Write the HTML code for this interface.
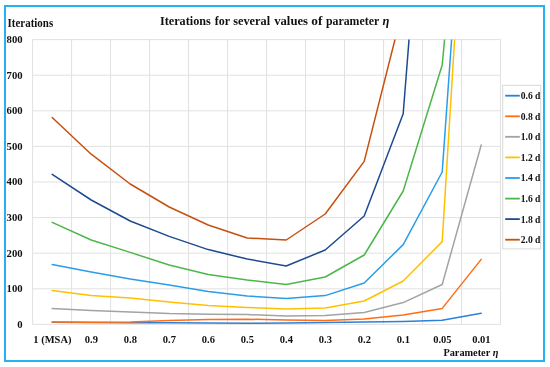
<!DOCTYPE html>
<html><head><meta charset="utf-8"><title>Iterations chart</title>
<style>html,body{margin:0;padding:0;background:#fff}svg{display:block}text{font-family:"Liberation Serif",serif;font-weight:bold;fill:#111}</style></head><body>
<svg width="550" height="367" viewBox="0 0 550 367">
<rect x="0" y="0" width="550" height="367" fill="#fff"/>
<rect x="5" y="6" width="539" height="355" fill="#fff" stroke="#24B3EE" stroke-width="2"/>
<path d="M32.6 39.60H500.5M32.6 75.20H500.5M32.6 110.80H500.5M32.6 146.40H500.5M32.6 182.00H500.5M32.6 217.60H500.5M32.6 253.20H500.5M32.6 288.80H500.5M32.6 324.40H500.5M32.60 39.6V324.4M71.59 39.6V324.4M110.58 39.6V324.4M149.57 39.6V324.4M188.57 39.6V324.4M227.56 39.6V324.4M266.55 39.6V324.4M305.54 39.6V324.4M344.53 39.6V324.4M383.52 39.6V324.4M422.52 39.6V324.4M461.51 39.6V324.4M500.50 39.6V324.4" stroke="#E1E1E1" stroke-width="1" fill="none"/>
<clipPath id="c"><rect x="32.6" y="39.6" width="467.9" height="286.79999999999995"/></clipPath>
<g clip-path="url(#c)" fill="none" stroke-width="1.5" stroke-linejoin="round" stroke-linecap="round">
<polyline points="52.2,322.2 91.2,322.4 130.2,322.7 169.2,322.8 208.2,323.0 247.2,323.2 286.2,323.0 325.2,322.6 364.2,322.0 403.2,321.4 442.2,320.2 481.2,313.2" stroke="#2B80D8"/>
<polyline points="52.2,322.0 91.2,322.2 130.2,322.0 169.2,320.6 208.2,319.6 247.2,319.2 286.2,320.0 325.2,320.6 364.2,319.0 403.2,315.0 442.2,308.4 481.2,259.4" stroke="#FF6E14"/>
<polyline points="52.2,308.6 91.2,310.4 130.2,312.0 169.2,313.6 208.2,314.2 247.2,314.6 286.2,316.0 325.2,315.4 364.2,312.4 403.2,302.6 442.2,284.5 481.2,145.0" stroke="#A3A3A3"/>
<polyline points="52.2,290.4 91.2,295.6 130.2,298.0 169.2,302.0 208.2,305.4 247.2,307.4 286.2,309.0 325.2,308.0 364.2,301.0 403.2,281.0 442.2,241.6 481.2,-394.0" stroke="#FFC000"/>
<polyline points="52.2,264.4 91.2,272.0 130.2,279.0 169.2,285.0 208.2,291.6 247.2,296.0 286.2,298.4 325.2,295.6 364.2,283.0 403.2,244.6 442.2,172.0 481.2,-378.0" stroke="#2A9DE6"/>
<polyline points="52.2,222.4 91.2,240.0 130.2,252.4 169.2,265.0 208.2,274.4 247.2,280.0 286.2,284.6 325.2,277.0 364.2,255.0 403.2,191.0 442.2,65.0 481.2,-352.0" stroke="#4CB748"/>
<polyline points="52.2,174.4 91.2,200.0 130.2,221.0 169.2,236.4 208.2,249.6 247.2,259.0 286.2,266.0 325.2,250.0 364.2,216.0 403.2,113.8 442.2,-383.0" stroke="#1D4B90"/>
<polyline points="52.2,117.5 91.2,154.2 130.2,184.0 169.2,207.0 208.2,225.0 247.2,238.0 286.2,240.0 325.2,214.0 364.2,161.4 403.2,7.0" stroke="#C8500F"/>
</g>
<text x="22.6" y="43.0" font-size="10.7" text-anchor="end">800</text>
<text x="22.6" y="78.6" font-size="10.7" text-anchor="end">700</text>
<text x="22.6" y="114.2" font-size="10.7" text-anchor="end">600</text>
<text x="22.6" y="149.8" font-size="10.7" text-anchor="end">500</text>
<text x="22.6" y="185.4" font-size="10.7" text-anchor="end">400</text>
<text x="22.6" y="221.0" font-size="10.7" text-anchor="end">300</text>
<text x="22.6" y="256.6" font-size="10.7" text-anchor="end">200</text>
<text x="22.6" y="292.2" font-size="10.7" text-anchor="end">100</text>
<text x="22.6" y="327.8" font-size="10.7" text-anchor="end">0</text>
<text x="52.4" y="343.3" font-size="10.5" text-anchor="middle">1 (MSA)</text>
<text x="91.4" y="343.3" font-size="10.5" text-anchor="middle">0.9</text>
<text x="130.4" y="343.3" font-size="10.5" text-anchor="middle">0.8</text>
<text x="169.4" y="343.3" font-size="10.5" text-anchor="middle">0.7</text>
<text x="208.4" y="343.3" font-size="10.5" text-anchor="middle">0.6</text>
<text x="247.4" y="343.3" font-size="10.5" text-anchor="middle">0.5</text>
<text x="286.4" y="343.3" font-size="10.5" text-anchor="middle">0.4</text>
<text x="325.4" y="343.3" font-size="10.5" text-anchor="middle">0.3</text>
<text x="364.4" y="343.3" font-size="10.5" text-anchor="middle">0.2</text>
<text x="403.4" y="343.3" font-size="10.5" text-anchor="middle">0.1</text>
<text x="442.4" y="343.3" font-size="10.5" text-anchor="middle">0.05</text>
<text x="481.4" y="343.3" font-size="10.5" text-anchor="middle">0.01</text>
<text x="7.6" y="27.2" font-size="11.6" textLength="45.6" lengthAdjust="spacingAndGlyphs">Iterations</text>
<g font-size="12.5"><text x="159.9" y="24.8" textLength="50.9" lengthAdjust="spacingAndGlyphs">Iterations</text><text x="214.7" y="24.8" textLength="15.3" lengthAdjust="spacingAndGlyphs">for</text><text x="233.2" y="24.8" textLength="36.9" lengthAdjust="spacingAndGlyphs">several</text><text x="274.2" y="24.8" textLength="33.8" lengthAdjust="spacingAndGlyphs">values</text><text x="311.3" y="24.8" textLength="11.1" lengthAdjust="spacingAndGlyphs">of</text><text x="325.9" y="24.8" textLength="53.3" lengthAdjust="spacingAndGlyphs">parameter</text><text x="382.6" y="24.8" font-style="italic">η</text></g>
<text x="498.3" y="356.4" font-size="10.3" text-anchor="end">Parameter <tspan font-style="italic">η</tspan></text>
<rect x="502.7" y="85.3" width="38" height="163.6" fill="#fff" stroke="#D9D9D9" stroke-width="1"/>
<path d="M505.2 95.7H519.8" stroke="#2B80D8" stroke-width="1.8"/>
<text x="520.7" y="99.1" font-size="9.6">0.6 d</text>
<path d="M505.2 116.3H519.8" stroke="#FF6E14" stroke-width="1.8"/>
<text x="520.7" y="119.7" font-size="9.6">0.8 d</text>
<path d="M505.2 136.8H519.8" stroke="#A3A3A3" stroke-width="1.8"/>
<text x="520.7" y="140.2" font-size="9.6">1.0 d</text>
<path d="M505.2 157.4H519.8" stroke="#FFC000" stroke-width="1.8"/>
<text x="520.7" y="160.8" font-size="9.6">1.2 d</text>
<path d="M505.2 178.0H519.8" stroke="#2A9DE6" stroke-width="1.8"/>
<text x="520.7" y="181.4" font-size="9.6">1.4 d</text>
<path d="M505.2 198.6H519.8" stroke="#4CB748" stroke-width="1.8"/>
<text x="520.7" y="202.0" font-size="9.6">1.6 d</text>
<path d="M505.2 219.1H519.8" stroke="#1D4B90" stroke-width="1.8"/>
<text x="520.7" y="222.5" font-size="9.6">1.8 d</text>
<path d="M505.2 239.7H519.8" stroke="#C8500F" stroke-width="1.8"/>
<text x="520.7" y="243.1" font-size="9.6">2.0 d</text>
</svg>
</body></html>
